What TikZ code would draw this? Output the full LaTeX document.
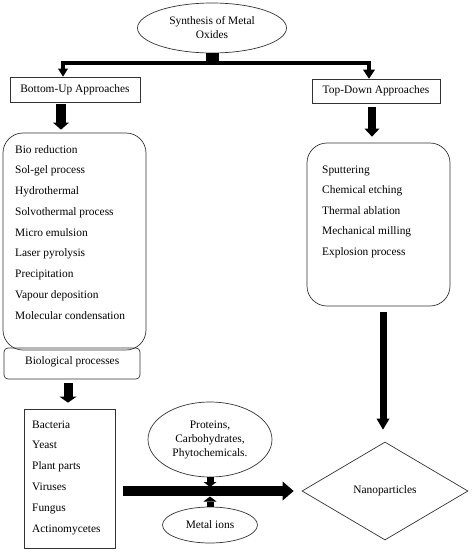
\documentclass[tikz,border=0pt]{standalone}
\usepackage{fontspec}
\setmainfont{Liberation Serif}
\usetikzlibrary{shapes.geometric,arrows.meta,calc}
\begin{document}
\begin{tikzpicture}[x=1pt,y=-1pt,
  font=\fontsize{11.4}{14}\selectfont,
  box/.style={draw=black!80, line width=0.7pt, inner sep=0pt},
  item/.style={anchor=base west, inner sep=0pt},
  blk/.style={draw=black, line width=#1, line cap=butt}]
\useasboundingbox (0,0) rectangle (474,552);

% nodes
\node[box, ellipse, minimum width=149pt, minimum height=50pt, align=center] (top) at (212,28) {Synthesis of Metal\\Oxides};
\node[box, minimum width=130pt, minimum height=25pt] (bu) at (75,89.5) {Bottom-Up Approaches};
\node[box, minimum width=128pt, minimum height=24pt] (td) at (376,91) {Top-Down Approaches};
\node[box, rounded corners=20pt, minimum width=143pt, minimum height=217pt] (lbox) at (74.5,241.5) {};
\node[box, rounded corners=4pt, minimum width=136pt, minimum height=31pt] (bio) at (72,363.5) {};
\node[item] (biot) at (25,364) {Biological processes};
\node[box, rounded corners=20pt, minimum width=143pt, minimum height=163pt] (rbox) at (378.5,224.5) {};
\node[box, minimum width=91pt, minimum height=139pt] (bact) at (69.5,478.5) {};
\node[box, ellipse, minimum width=124pt, minimum height=75pt, align=center] (prot) at (210,439.5) {Proteins,\\Carbohydrates,\\Phytochemicals.};
\node[box, ellipse, minimum width=95pt, minimum height=36pt] (metal) at (210,525) {Metal ions};
\node[box, diamond, aspect=1.694, minimum width=166pt, minimum height=98pt] (nano) at (385,491) {Nanoparticles};

% list texts
\foreach \t [count=\i from 0] in {Bio reduction,Sol-gel process,Hydrothermal,Solvothermal process,Micro emulsion,Laser pyrolysis,Precipitation,Vapour deposition,Molecular condensation}
  \node[item] (l\i) at (15,{153+20.75*\i}) {\t};
\foreach \t [count=\i from 0] in {Sputtering,Chemical etching,Thermal ablation,Mechanical milling,Explosion process}
  \node[item] (r\i) at (322,{173+20.5*\i}) {\t};
\foreach \t [count=\i from 0] in {Bacteria,Yeast,Plant parts,Viruses,Fungus,Actinomycetes}
  \node[item] (b\i) at (32,{428+20.8*\i}) {\t};

% connectors
\coordinate (j0) at (212,63);
\coordinate (j1) at (212,65);
\draw[blk=13pt] (top.south) -- (j1);
\draw[blk=4.5pt, -{Triangle[length=8pt,width=10pt,line width=0pt]}] (j0) -| ([xshift=-12pt]bu.north);
\draw[blk=4.5pt, -{Triangle[length=9pt,width=12pt,line width=0pt]}] (j0) -| ([xshift=-7pt]td.north);

\draw[blk=10pt, -{Triangle[length=7pt,width=16pt,line width=0pt]}, shorten <=2pt, shorten >=3pt]
  ([xshift=-14pt]bu.south) -- ([xshift=-14pt]bu.south |- lbox.north);
\draw[blk=8.5pt, -{Triangle[length=8pt,width=15pt,line width=0pt]}, shorten <=4pt, shorten >=6pt]
  ([xshift=-4pt]td.south) -- ([xshift=-4pt]td.south |- rbox.north);
\draw[blk=9pt, -{Triangle[length=6pt,width=17pt,line width=0pt]}, shorten <=4pt, shorten >=6pt]
  ([xshift=-4pt]bio.south) -- ([xshift=-4pt]bio.south |- bact.north);
\draw[blk=7pt, -{Triangle[length=11pt,width=13pt,line width=0pt]}, shorten <=6pt, shorten >=12pt]
  ([xshift=4.5pt]rbox.south) -- ([xshift=4.5pt]rbox.south |- nano.north);
\draw[blk=9.5pt, -{Triangle[length=11pt,width=19pt,line width=0pt]}, shorten <=8pt, shorten >=8pt]
  (bact.east |- nano.west) -- (nano.west);

\coordinate (jt) at (210,487);
\coordinate (jb) at (210,496.5);
\draw[blk=7pt, -{Triangle[length=5pt,width=13pt,line width=0pt]}] (prot.south) -- (jt);
\draw[blk=7pt, -{Triangle[length=5pt,width=13pt,line width=0pt]}] (metal.north) -- (jb);
\end{tikzpicture}
\end{document}
